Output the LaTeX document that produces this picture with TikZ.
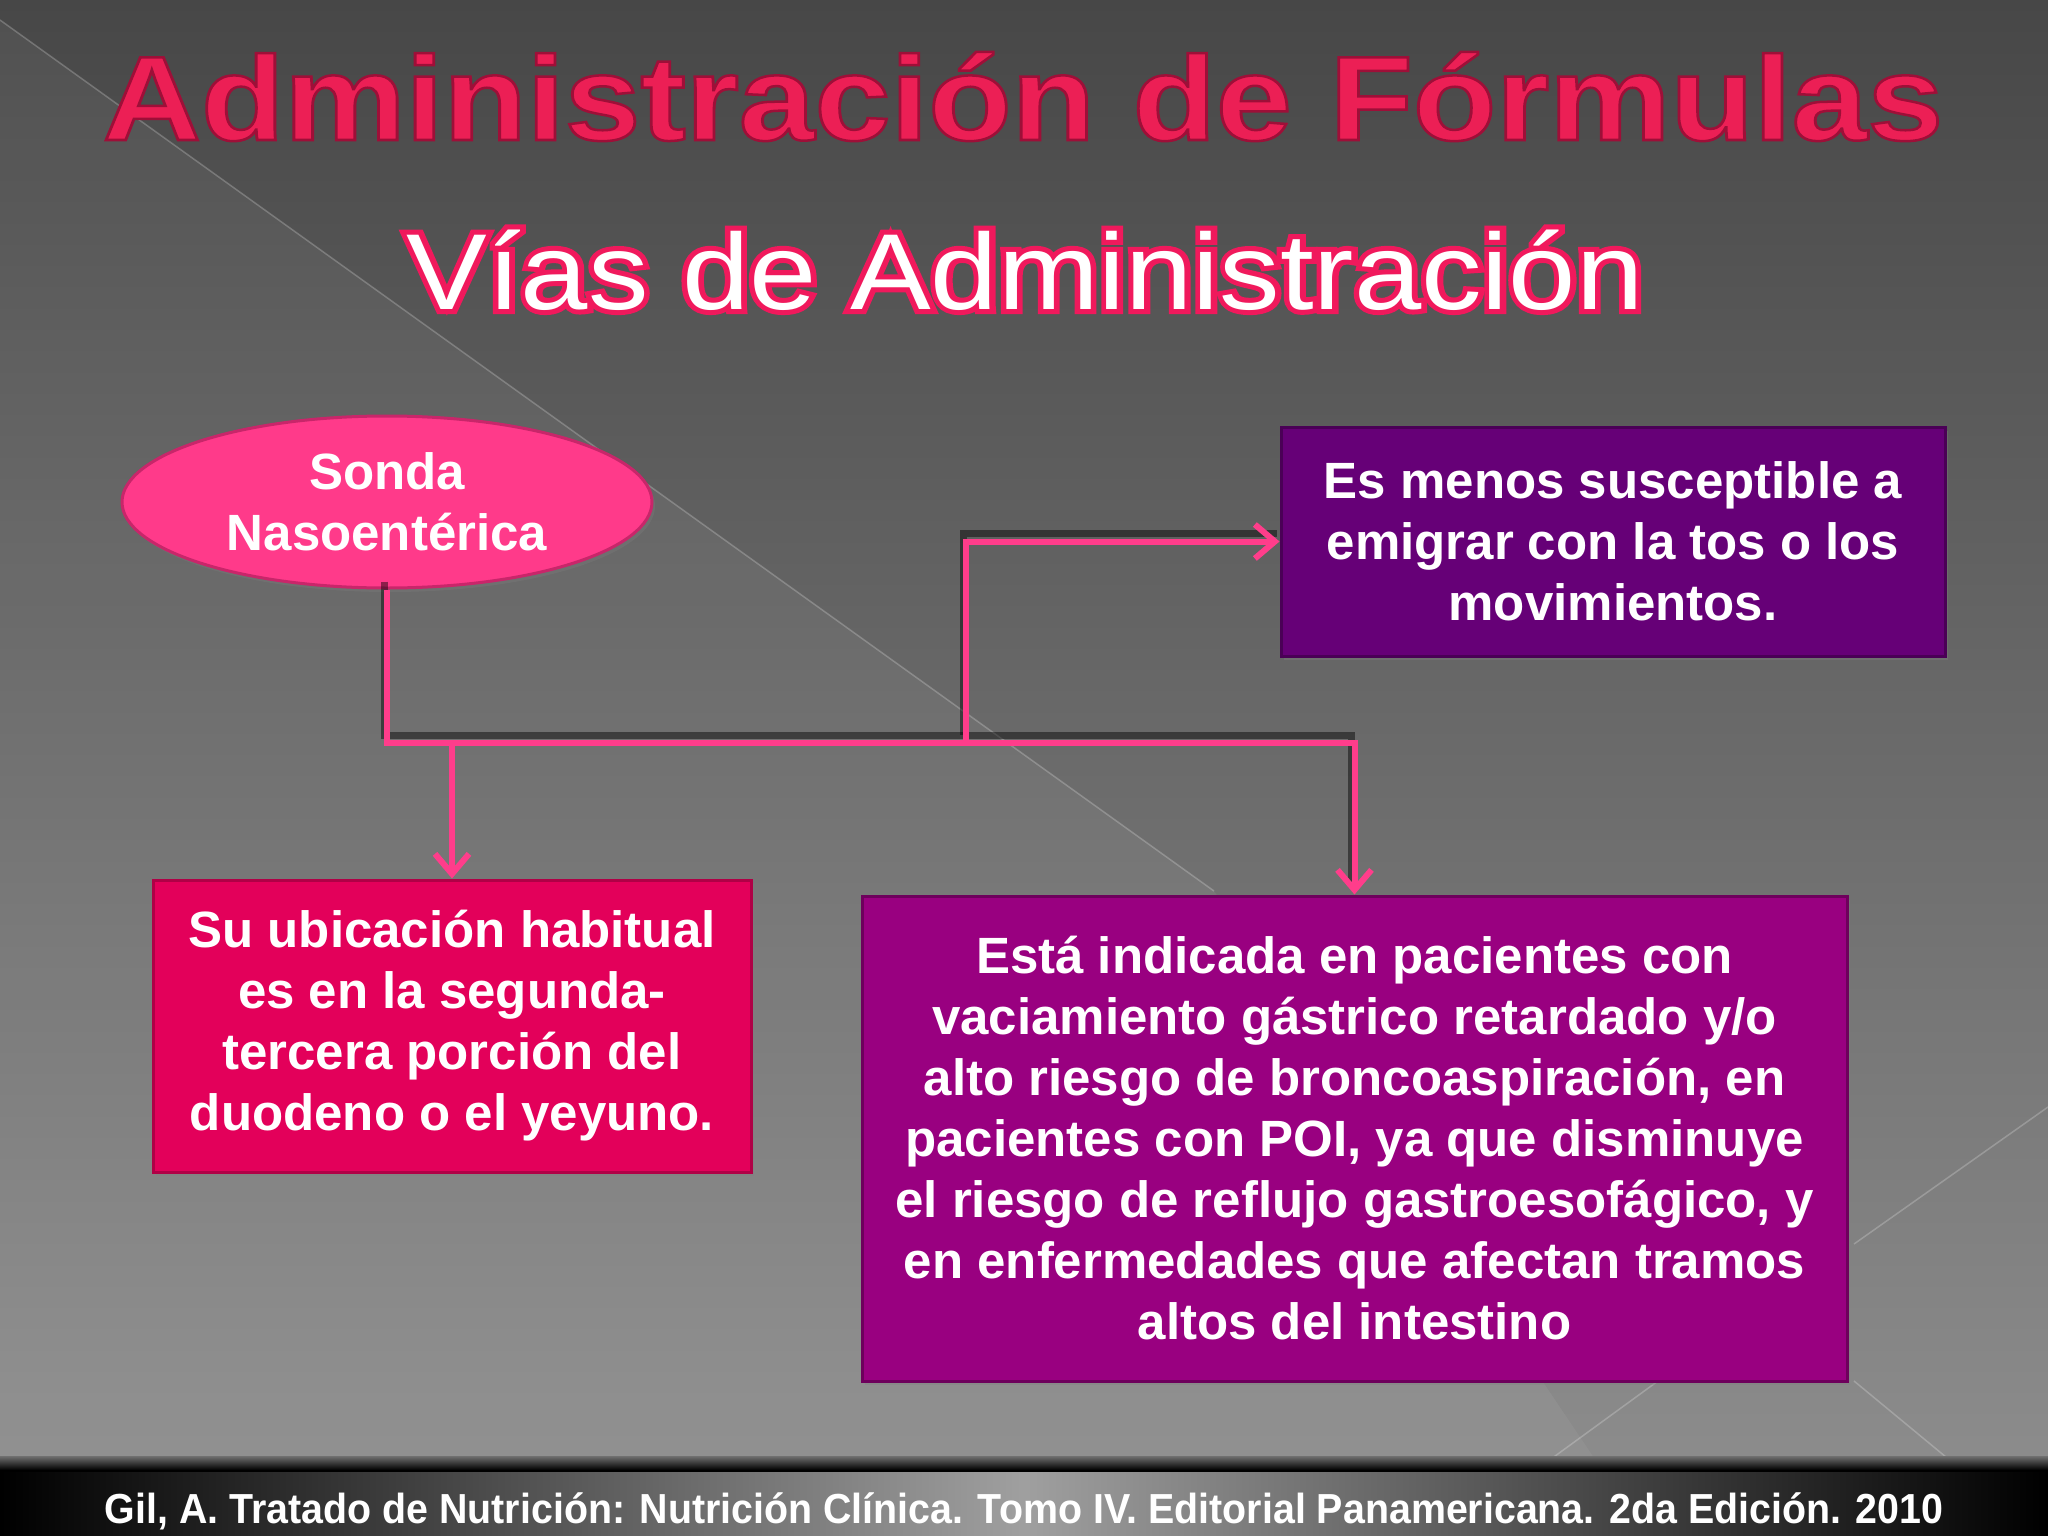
\documentclass[tikz,border=0pt]{standalone}
\usepackage{fontspec}
\setmainfont{Liberation Sans}
\usepackage{graphicx}
\usetikzlibrary{shapes.geometric,arrows.meta,shadows,calc}
\definecolor{bgtop}{HTML}{474747}
\definecolor{bgbot}{HTML}{8C8C8C}
\definecolor{titred}{HTML}{EC1F55}
\definecolor{titdark}{HTML}{9E0F38}
\definecolor{subpink}{HTML}{F01A5C}
\definecolor{conpink}{HTML}{FF3D8B}
\definecolor{ellfill}{HTML}{FF3A8A}
\definecolor{elldraw}{HTML}{C8266A}
\definecolor{boxA}{HTML}{660077}
\definecolor{boxAd}{HTML}{4A0056}
\definecolor{boxB}{HTML}{E3005A}
\definecolor{boxBd}{HTML}{B00046}
\definecolor{boxC}{HTML}{990080}
\definecolor{boxCd}{HTML}{6E005C}
% text drawn with a given PDF text render mode: #1 mode, #2 line width, #3 stroke rgb, #4 text
\newcommand\myrender[4]{\special{pdf:literal direct #1 Tr #2 w #3 RG}#4\special{pdf:literal direct 0 Tr}}
\newcommand\mytitletxt{\scalebox{1.136}[1]{\myrender{2}{2.5}{0.62 0.06 0.22}{Administración de Fórmulas}}}
\newcommand\mysubplain{Vías de Administración}
\newcommand\mytitlefont{\fontsize{120}{140}\selectfont\bfseries}
\newcommand\mysubfont{\fontsize{108}{120}\selectfont}
\begin{document}
\begin{tikzpicture}[x=1pt,y=-1pt,
  boxtext/.style={font=\fontsize{51}{61}\selectfont\bfseries, text=white, align=center},
  infobox/.style={boxtext, rectangle, line width=3pt, inner sep=0pt,
     drop shadow={shadow xshift=3pt, shadow yshift=-4pt, opacity=0.35}},
  conn/.style={draw=conpink, line width=6pt},
  connshadow/.style={draw=black, opacity=0.45, line width=7pt},
  arrowend/.style={-{Straight Barb[length=20pt,width=34pt]}},
  bgline/.style={white, opacity=0.22, line width=1.5pt},
  titlenode/.style={anchor=base, inner sep=0pt, font=\mytitlefont},
  subnode/.style={anchor=base, inner sep=0pt, font=\mysubfont}
]
\useasboundingbox (0,0) rectangle (2048,1536);
% background
\shade[top color=bgtop, bottom color=bgbot] (0,0) rectangle (2048,1467);
\fill[white, opacity=0.05] (0,20) -- (1214,891) -- (1600,1467) -- (0,1467) -- cycle;
\draw[bgline] (0,20) -- (1214,891);
\draw[bgline] (2048,1107) -- (1854,1244);
\draw[bgline] (1658,1381) -- (1540,1467);
\draw[bgline] (1854,1381) -- (1958,1467);
% footer band
\fill[black] (0,1467) rectangle (2048,1536);
\shade[left color=black, right color=black, middle color=gray!75] (0,1472) rectangle (2048,1536);
\shade[top color=bgbot!80!black, bottom color=black] (0,1456) rectangle (2048,1470);
\node[anchor=base, inner sep=0pt, font=\fontsize{42}{50}\selectfont\bfseries, text=white] (foot) at (1024,1523)
  {\scalebox{0.937}[1]{Gil, A. Tratado de Nutrición: Nutrición Clínica. Tomo IV. Editorial Panamericana. 2da Edición. 2010}};
% title and subtitle (pink outline drawn under the white letters)
\node[titlenode, text=titred] (title) at (1023,140) {\mytitletxt};
\node[subnode, text=subpink] (subline) at (1025,309)
  {\scalebox{1.12}[1]{\myrender{1}{10}{0.94 0.10 0.36}{\mysubplain}}};
\node[subnode, text=white] (subtitle) at (1025,309) {\scalebox{1.12}[1]{\mysubplain}};
% nodes
\node[boxtext, ellipse, fill=ellfill, draw=elldraw, line width=3pt, minimum width=530pt, minimum height=172pt, inner sep=0pt,
  drop shadow={shadow xshift=3pt, shadow yshift=-4pt, opacity=0.3}] (E) at (387,502) {Sonda\\Nasoentérica};
\node[infobox, fill=boxA, draw=boxAd, minimum width=664pt, minimum height=229pt] (A) at (1613,541.5)
  {Es menos susceptible a\\emigrar con la tos o los\\movimientos.};
\node[infobox, fill=boxB, draw=boxBd, minimum width=598pt, minimum height=292pt] (B) at (452,1026)
  {Su ubicación habitual\\es en la segunda-\\tercera porción del\\duodeno o el yeyuno.};
\node[infobox, fill=boxC, draw=boxCd, minimum width=985pt, minimum height=485pt] (C) at (1354.5,1138.5)
  {Está indicada en pacientes con\\vaciamiento gástrico retardado y/o\\alto riesgo de broncoaspiración, en\\pacientes con POI, ya que disminuye\\el riesgo de reflujo gastroesofágico, y\\en enfermedades que afectan tramos\\altos del intestino};
% connectors
\coordinate (J) at (387,743);
\coordinate (K) at (966,743);
\begin{scope}[transform canvas={shift={(-3pt,8pt)}}]
  \draw[connshadow] (E.south) -- (J) -| (C.north);
  \draw[connshadow] (K) |- (A.west);
\end{scope}
\draw[conn, arrowend] (E.south) -- (J) -| (C.north);
\draw[conn, arrowend] (J -| B.north) -- (B.north);
\draw[conn, arrowend] (K) |- (A.west);
\end{tikzpicture}
\end{document}
